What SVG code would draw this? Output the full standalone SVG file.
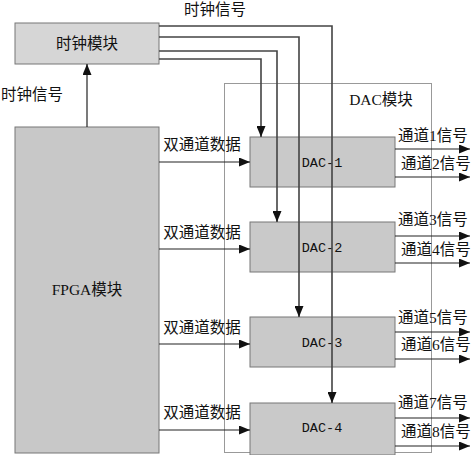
<svg xmlns="http://www.w3.org/2000/svg" width="474" height="455" viewBox="0 0 474 455">
<defs>
<marker id="ah" markerWidth="11" markerHeight="9" refX="11" refY="4.5" orient="auto" markerUnits="userSpaceOnUse">
<path d="M0,0 L11,4.5 L0,9 Z" fill="#111"/>
</marker>
<style>
text{font-family:"Liberation Serif","Noto Sans CJK SC",serif;font-size:15.5px;fill:#111}
.m{font-family:"Liberation Mono","Noto Sans CJK SC",monospace;font-size:13.5px}
.box{stroke:#777;stroke-width:1}
.dac{fill:#c9c9c9;stroke:#777;stroke-width:1}
.ln{fill:none;stroke:#222;stroke-width:1.2}
.clk{fill:none;stroke:#444;stroke-width:1.6}
</style>
</defs>
<rect width="474" height="455" fill="#fff"/>
<g id="dac-module">
<rect x="224.5" y="83.5" width="207" height="369" fill="none" stroke="#999" stroke-width="1"/>
<text x="381" y="105" text-anchor="middle">DAC模块</text>
</g>
<g id="clock-module">
<rect class="box" x="15" y="23" width="144" height="41" fill="#d6d6d6"/>
<text x="87" y="49" text-anchor="middle">时钟模块</text>
</g>
<g id="fpga">
<rect class="box" x="15" y="127" width="144" height="326" fill="#c8c8c8"/>
<text x="87" y="295" text-anchor="middle">FPGA模块</text>
</g>
<g id="dac1">
<rect class="dac" x="250" y="137" width="145" height="50"/>
<text class="m" x="322" y="167" text-anchor="middle">DAC-1</text>
</g>
<g id="dac2">
<rect class="dac" x="250" y="222" width="145" height="50"/>
<text class="m" x="322" y="252" text-anchor="middle">DAC-2</text>
</g>
<g id="dac3">
<rect class="dac" x="250" y="317" width="145" height="50"/>
<text class="m" x="322" y="347" text-anchor="middle">DAC-3</text>
</g>
<g id="dac4">
<rect class="dac" x="250" y="403" width="145" height="52"/>
<text class="m" x="322" y="432" text-anchor="middle">DAC-4</text>
</g>
<g id="connectors">
<line class="ln" x1="87" y1="127" x2="87" y2="64" marker-end="url(#ah)"/>
<polyline class="clk" points="159,26 332,26 332,403" marker-end="url(#ah)"/>
<polyline class="clk" points="159,37 299,37 299,317" marker-end="url(#ah)"/>
<polyline class="clk" points="159,51 277,51 277,222" marker-end="url(#ah)"/>
<polyline class="clk" points="159,59 261,59 261,137" marker-end="url(#ah)"/>
<line class="ln" x1="159" y1="162" x2="250" y2="162" marker-end="url(#ah)"/>
<line class="ln" x1="159" y1="249" x2="250" y2="249" marker-end="url(#ah)"/>
<line class="ln" x1="159" y1="344" x2="250" y2="344" marker-end="url(#ah)"/>
<line class="ln" x1="159" y1="430" x2="250" y2="430" marker-end="url(#ah)"/>
<line class="ln" x1="395" y1="149" x2="470" y2="149" marker-end="url(#ah)"/>
<line class="ln" x1="395" y1="177" x2="470" y2="177" marker-end="url(#ah)"/>
<line class="ln" x1="395" y1="236" x2="470" y2="236" marker-end="url(#ah)"/>
<line class="ln" x1="395" y1="263" x2="470" y2="263" marker-end="url(#ah)"/>
<line class="ln" x1="395" y1="332" x2="470" y2="332" marker-end="url(#ah)"/>
<line class="ln" x1="395" y1="359" x2="470" y2="359" marker-end="url(#ah)"/>
<line class="ln" x1="395" y1="418" x2="470" y2="418" marker-end="url(#ah)"/>
<line class="ln" x1="395" y1="446" x2="470" y2="446" marker-end="url(#ah)"/>
</g>
<g id="labels">
<text x="215" y="15" text-anchor="middle">时钟信号</text>
<text x="32" y="100" text-anchor="middle">时钟信号</text>
<text x="202" y="150" text-anchor="middle">双通道数据</text>
<text x="202" y="238" text-anchor="middle">双通道数据</text>
<text x="202" y="333" text-anchor="middle">双通道数据</text>
<text x="202" y="418" text-anchor="middle">双通道数据</text>
<text x="433" y="141" text-anchor="middle">通道1信号</text>
<text x="436" y="169" text-anchor="middle">通道2信号</text>
<text x="433" y="225" text-anchor="middle">通道3信号</text>
<text x="436" y="255" text-anchor="middle">通道4信号</text>
<text x="433" y="323" text-anchor="middle">通道5信号</text>
<text x="436" y="350" text-anchor="middle">通道6信号</text>
<text x="433" y="408" text-anchor="middle">通道7信号</text>
<text x="436" y="437" text-anchor="middle">通道8信号</text>
</g>
</svg>
